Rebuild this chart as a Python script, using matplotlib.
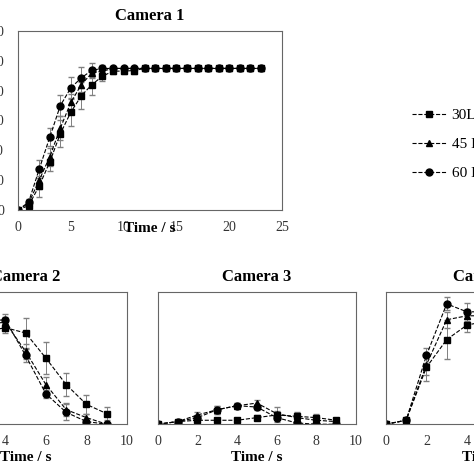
import numpy as np
import matplotlib.pyplot as plt
from matplotlib.lines import Line2D

plt.rcParams['font.family'] = ['Liberation Serif', 'DejaVu Serif']

labels = ['30L/min', '45 L/min', '60 L/min']
markers = ['s', '^', 'o']

# Camera 1
t1 = np.arange(0, 24)
plateau = [94.8] * 11
cam1 = [
    [0, 2.9, 16, 32, 51, 65.5, 76.5, 84, 89.6, 93, 93, 93.4, 94.8] + plateau,
    [0, 4.5, 19.8, 35.6, 54.7, 72, 84, 91.8, 93, 94.8, 94.8, 94.8, 94.8] + plateau,
    [0, 5.2, 27.2, 48.6, 69.8, 81.8, 88.5, 93.6, 94.8, 94.8, 94.8, 94.8, 94.8] + plateau,
]
cam1_err = [
    [0, 2, 7, 6, 9, 9, 9, 7, 3, 2, 2, 2, 1] + [1] * 11,
    [0, 2, 6, 6, 8, 6, 5, 3, 2, 1, 1, 1, 1] + [1] * 11,
    [0, 2, 6, 6, 7, 7, 7, 5, 2, 1, 1, 1, 1] + [1] * 11,
]

# Cameras 2-4
t2 = np.arange(0, 10)
cam2 = [
    [0, 25, 60, 70, 73, 69, 50, 30, 15, 8],
    [0, 28, 65, 76, 77, 55, 30, 11, 5, 0],
    [0, 30, 68, 78, 79, 52, 23, 9, 2, 0],
]
cam2_err = [
    [0, 4, 4, 4, 4, 11, 12, 9, 7, 5],
    [0, 4, 4, 4, 4, 6, 6, 5, 3, 1],
    [0, 4, 4, 4, 4, 5, 3, 6, 2, 1],
]
cam3 = [
    [0, 2, 3, 3, 3, 5, 7, 6, 5, 3],
    [0, 2, 7, 11, 14, 16, 8, 5, 3, 2],
    [0, 2, 5, 11, 14, 13, 5, 1, 0, 0],
]
cam3_err = [
    [0, 1, 2, 2, 2, 2, 3, 3, 3, 2],
    [0, 1, 2, 3, 2, 2, 5, 3, 2, 1],
    [0, 1, 2, 3, 2, 2, 3, 1, 1, 1],
]
cam4 = [
    [0, 3, 43, 64, 75, 78, 80, 80, 80, 80],
    [0, 3, 45, 79, 82, 82, 82, 82, 82, 82],
    [0, 3, 52, 91, 85, 85, 85, 85, 85, 85],
]
cam4_err = [
    [0, 1, 10, 15, 5, 5, 5, 5, 5, 5],
    [0, 1, 8, 6, 5, 5, 5, 5, 5, 5],
    [0, 1, 6, 5, 7, 5, 5, 5, 5, 5],
]

fig = plt.figure(figsize=(4.74, 4.74), dpi=100)


def draw(ax, t, series, errs, title, xticks, yticks_shown):
    for y, e, m in zip(series, errs, markers):
        ax.errorbar(t, y, yerr=e, fmt=m, ls='--', lw=0.8, color='black', ms=5,
                    ecolor='gray', elinewidth=0.7, capsize=2)
    ax.set_title(title, fontweight='bold', fontsize=12, pad=8)
    ax.set_xticks(xticks)
    ax.tick_params(length=0, labelsize=10, colors='#333333', pad=8)
    ax.set_xlabel('Time / s', fontweight='bold', fontsize=11, labelpad=2)
    for s in ax.spines.values():
        s.set_color('#666666')
    if not yticks_shown:
        ax.set_yticks([])


ax1 = fig.add_axes([0.038, 0.557, 0.557, 0.378])
draw(ax1, t1, cam1, cam1_err, 'Camera 1', [0, 5, 10, 15, 20, 25], True)
ax1.set_xlim(0, 25)
ax1.set_ylim(0, 120)
ax1.set_yticks(np.arange(0, 121, 20))
ax1.tick_params(axis='y', pad=10)
ax1.xaxis.labelpad = -9

handles = [Line2D([], [], color='black', ls='--', lw=0.8, marker=m, ms=5) for m in markers]
fig.legend(handles, labels, loc='upper left', bbox_to_anchor=(0.84, 0.8), frameon=False,
           fontsize=11, handlelength=2.3, labelspacing=1.0, handletextpad=0.3)

ax2 = fig.add_axes([-0.160, 0.105, 0.428, 0.279])
draw(ax2, t2, cam2, cam2_err, 'Camera 2', [0, 2, 4, 6, 8, 10], False)
ax3 = fig.add_axes([0.333, 0.105, 0.418, 0.279])
draw(ax3, t2, cam3, cam3_err, 'Camera 3', [0, 2, 4, 6, 8, 10], False)
ax4 = fig.add_axes([0.814, 0.105, 0.428, 0.279])
draw(ax4, t2, cam4, cam4_err, 'Camera 4', [0, 2, 4, 6, 8, 10], False)
for ax in (ax2, ax3, ax4):
    ax.set_xlim(0, 10)
    ax.set_ylim(0, 100)

fig.savefig('out.png', dpi=100)
